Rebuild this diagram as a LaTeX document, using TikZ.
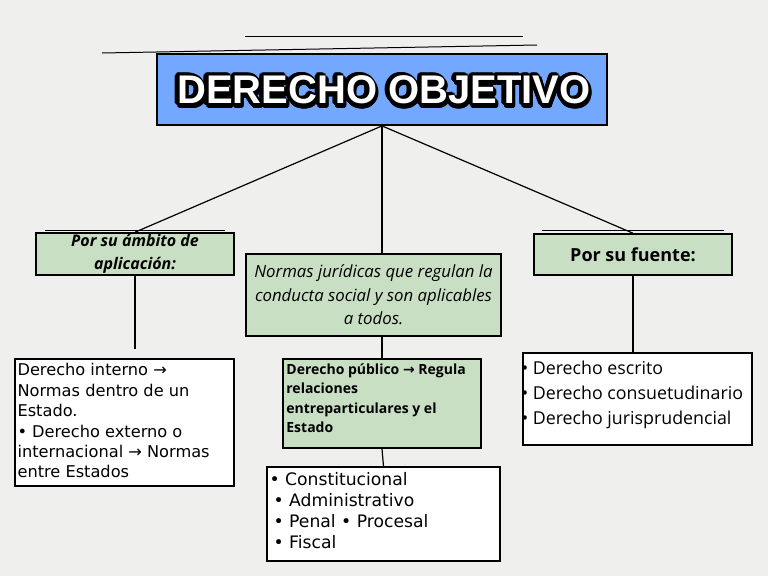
\documentclass[tikz,border=0pt]{standalone}
\usepackage{fontspec}
\setmainfont{Open Sans}
\newfontfamily\plainfont{DejaVu Sans}
\newfontfamily\arrowfont{DejaVu Sans}
\usetikzlibrary{calc}

\definecolor{paper}{RGB}{239,239,237}
\definecolor{titleblue}{RGB}{116,167,254}
\definecolor{sage}{RGB}{200,223,196}

\newcommand{\toarrow}{{\arrowfont\char"2192}}
\newcommand{\titletext}{\fontsize{40}{40}\selectfont\fontspec{Liberation Sans}\bfseries DERECHO OBJETIVO}

\tikzset{
  titlebox/.style={draw=black, line width=1.8pt, fill=titleblue, minimum width=450pt, minimum height=71pt},
  greenbox/.style={draw=black, line width=1.6pt, fill=sage, inner sep=0pt},
  whitebox/.style={draw=black, line width=1.3pt, fill=white, inner sep=0pt},
  boxtext/.style={anchor=north west, align=left, inner sep=0pt},
  link/.style={line width=1.2pt},
  deco/.style={line width=1pt}
}

\begin{document}
\begin{tikzpicture}[x=1pt, y=-1pt]

\useasboundingbox (0,0) rectangle (768,576);
\fill[paper] (0,0) rectangle (768,576);

% lines over the title
\draw[deco] (245,36) -- (523,36);
\draw[deco] (102,53) -- (537,45);

% title
\node[titlebox] (title) at (382,89.5) {};
\foreach \a in {0,20,...,340} {
  \node[text=black] at ($(title.center)+(2.5,3)+(\a:2.4)$) {\titletext};
  \node[text=black] at ($(title.center)+(\a:2.4)$) {\titletext};
}
\node[text=white] at ($(title.center)+(2,0)$) {\titletext};

% first level
\draw[deco] (45,230) -- (225,230);
\draw[deco] (542,230) -- (724,230);

\node[greenbox, minimum width=198pt, minimum height=42pt, align=center,
      font=\fontsize{16}{23}\selectfont\bfseries\itshape] (ambito) at (135,254)
  {Por su ámbito de\\aplicación:};
\node[greenbox, minimum width=255pt, minimum height=82pt, align=center,
      font=\fontsize{16.8}{23.5}\selectfont\itshape] (normas) at (373.5,295)
  {Normas jurídicas que regulan la\\conducta social y son aplicables\\a todos.};
\node[greenbox, minimum width=198pt, minimum height=41pt,
      font=\fontsize{18}{20}\selectfont\bfseries] (fuente) at (633,254.5)
  {Por su fuente:};
\draw[deco] (293,253) -- (477,253);

% second level
\node[whitebox, minimum width=219pt, minimum height=127pt] (interno) at (124.5,422.5) {};
\node[boxtext, font=\plainfont\fontsize{16.2}{20.4}\selectfont] at ($(interno.north west)+(3,5)$)
  {Derecho interno \toarrow\\Normas dentro de un\\Estado.\\• Derecho externo o\\internacional \toarrow{} Normas\\entre Estados};

\node[greenbox, minimum width=198pt, minimum height=89pt] (publico) at (382,403.5) {};
\node[boxtext, font=\fontsize{14}{19.5}\selectfont\bfseries] at ($(publico.north west)+(4,5)$)
  {Derecho público \toarrow{} Regula\\relaciones\\entreparticulares y el\\Estado};

\node[whitebox, minimum width=233pt, minimum height=94pt] (ramas) at (383.5,514) {};
\node[boxtext, font=\plainfont\fontsize{17.2}{21}\selectfont] at ($(ramas.north west)+(3,6)$)
  {• Constitucional\\\hspace{4pt}• Administrativo\\\hspace{4pt}• Penal • Procesal\\\hspace{4pt}• Fiscal};

\node[whitebox, minimum width=229pt, minimum height=92pt] (fuentes) at (637.5,399) {};
\node[boxtext, font=\fontsize{17.8}{25}\selectfont] at ($(fuentes.north west)+(-1,8)$)
  {• Derecho escrito\\• Derecho consuetudinario\\• Derecho jurisprudencial};

% connectors
\coordinate (ambitoend) at (135,349);
\draw[link] (title.south) -- (ambito.north);
\draw[link] (title.south) -- (fuente.north);
\draw[link] (title.south) -- (normas.north -| title.south);
\draw[link] (normas.south -| title.south) -- (publico.north);
\draw[link] (publico.south) -- (ramas.north);
\draw[link] (ambito.south) -- (ambitoend);
\draw[link] (fuente.south) -- (fuente.south |- fuentes.north);

\end{tikzpicture}
\end{document}
